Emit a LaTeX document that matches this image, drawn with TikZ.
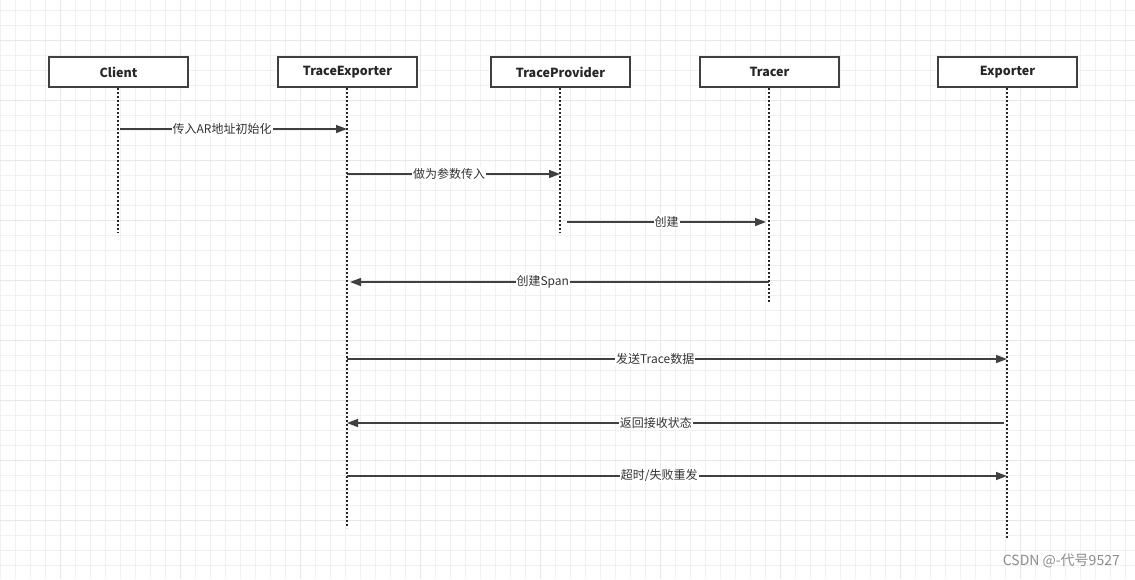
\documentclass[tikz,border=0pt]{standalone}
\usepackage{fontspec}
\setmainfont{Noto Sans CJK SC}
\usetikzlibrary{arrows.meta}
\begin{document}
\begin{tikzpicture}[x=1pt,y=-1pt,
 box/.style={draw=black!75,line width=2pt,fill=white,minimum width=139pt,minimum height=30pt,inner sep=0pt,font=\fontsize{12.5}{14}\selectfont\bfseries,text=black!85},
 life/.style={black!85,line width=2pt,dash pattern=on 2pt off 2pt},
 msg/.style={black!75,line width=1.5pt,-{Triangle[length=11pt,width=8pt]}},
 lbl/.style={fill=white,inner sep=1pt,font=\fontsize{12}{13}\selectfont,text=black!80}]
\useasboundingbox (0,0) rectangle (1135,579);
\fill[white] (0,0) rectangle (1135,579);
\foreach \x in {0,15,...,1135} \draw[black!6,line width=0.8pt] (\x,0) -- (\x,579);
\foreach \y in {10,25,...,579} \draw[black!6,line width=0.8pt] (0,\y) -- (1135,\y);
\foreach \x in {60,180,...,1135} \draw[black!9,line width=0.9pt] (\x,0) -- (\x,579);
\foreach \y in {40,100,...,579} \draw[black!9,line width=0.9pt] (0,\y) -- (1135,\y);
\coordinate (cE) at (118,233); \coordinate (teE) at (347,528);
\coordinate (tpE) at (560,233); \coordinate (trE) at (769,302);
\coordinate (exE) at (1007,538);
\draw[life] (118,88) -- (cE);
\draw[life] (347,88) -- (teE);
\draw[life] (560,88) -- (tpE);
\draw[life] (769,88) -- (trE);
\draw[life] (1007,88) -- (exE);
\node[box] (c) at (118.5,72) {Client};
\node[box] (te) at (347.5,72) {TraceExporter};
\node[box] (tp) at (560.5,72) {TraceProvider};
\node[box] (tr) at (769.5,72) {Tracer};
\node[box] (ex) at (1007.5,72) {Exporter};
\coordinate (a1) at (120,129); \coordinate (b1) at (347,129);
\coordinate (a2) at (347,174); \coordinate (b2) at (560,174);
\coordinate (a3) at (567,222); \coordinate (b3) at (766,222);
\coordinate (a4) at (769,282); \coordinate (b4) at (350,282);
\coordinate (a5) at (347,359); \coordinate (b5) at (1007,359);
\coordinate (a6) at (1004,423); \coordinate (b6) at (347,423);
\coordinate (a7) at (347,476); \coordinate (b7) at (1007,476);
\draw[msg] (a1) -- node[lbl,pos=0.45] {传入AR地址初始化} (b1);
\draw[msg] (a2) -- node[lbl,pos=0.48] {做为参数传入} (b2);
\draw[msg] (a3) -- node[lbl,pos=0.5] {创建} (b3);
\draw[msg] (a4) -- node[lbl,pos=0.54] {创建Span} (b4);
\draw[msg] (a5) -- node[lbl,pos=0.467] {发送Trace数据} (b5);
\draw[msg] (a6) -- node[lbl,pos=0.53] {返回接收状态} (b6);
\draw[msg] (a7) -- node[lbl,pos=0.473] {超时/失败重发} (b7);
\node[font=\fontsize{14}{15}\selectfont,text=black!45,anchor=east,inner sep=0pt] (wm) at (1120,561) {CSDN @-代号9527};
\end{tikzpicture}
\end{document}
